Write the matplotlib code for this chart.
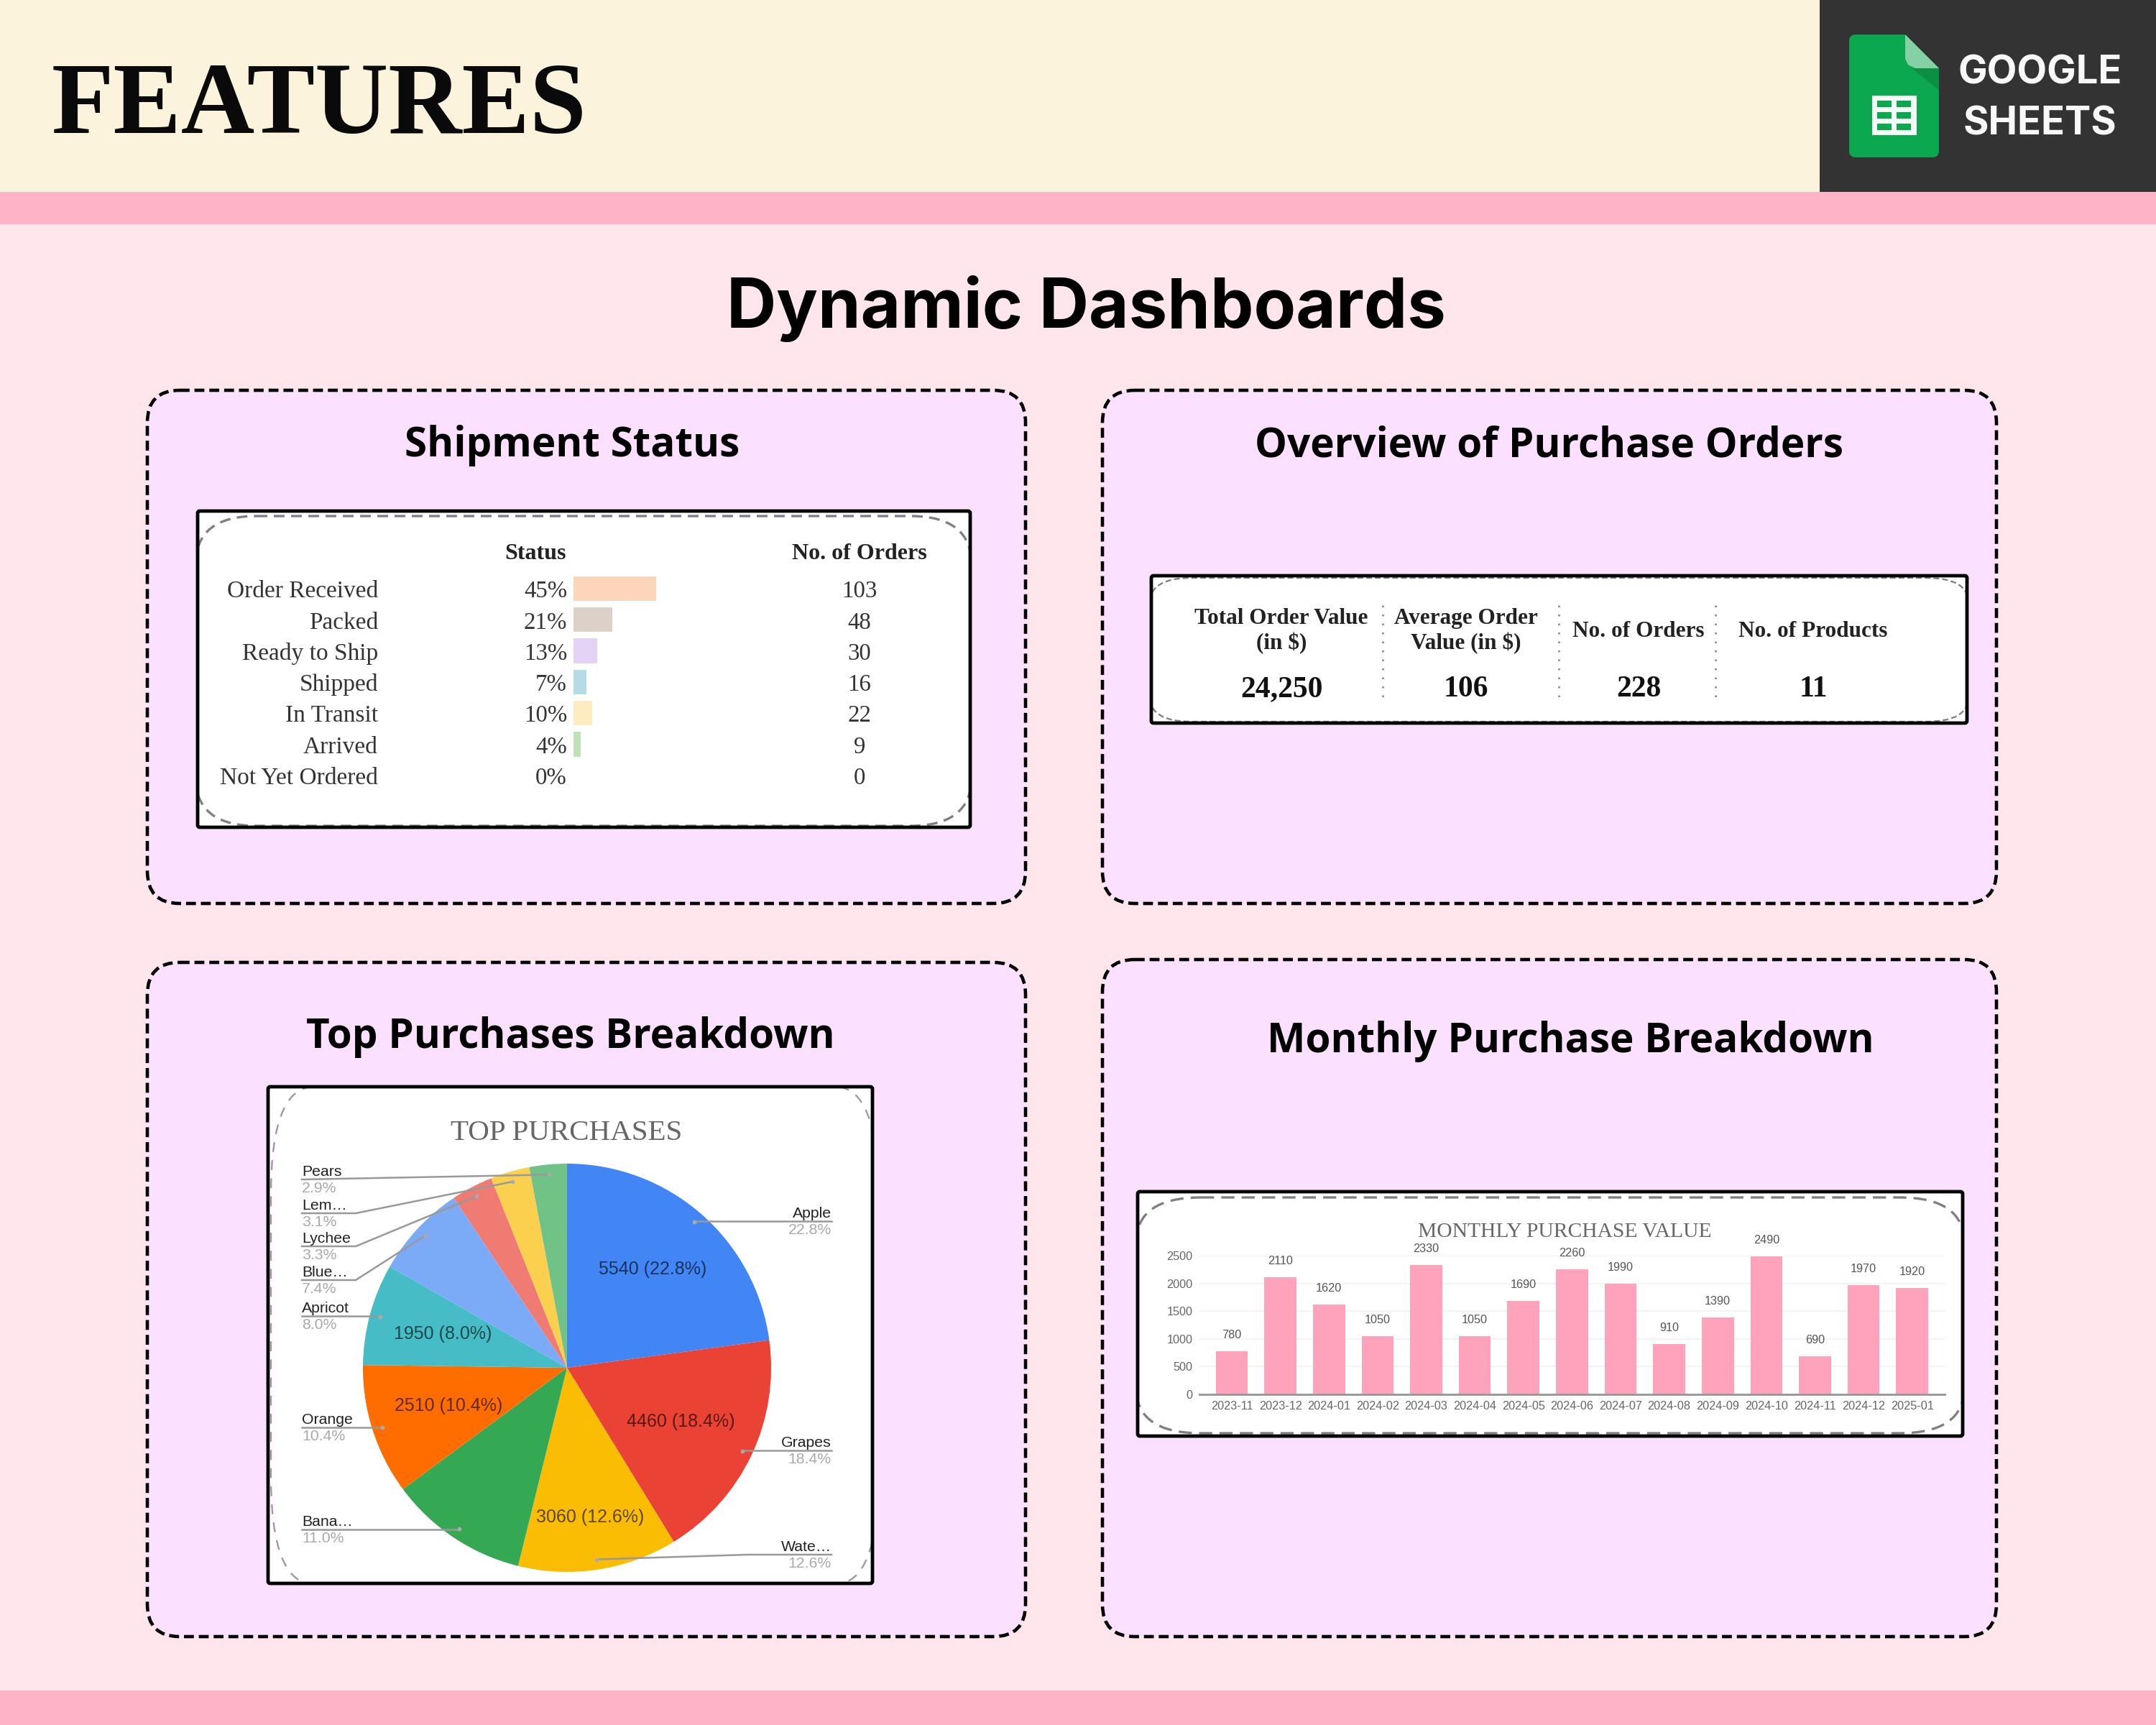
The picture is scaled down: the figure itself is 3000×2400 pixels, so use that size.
import matplotlib
matplotlib.use("Agg")
import matplotlib.pyplot as plt
from matplotlib.patches import FancyBboxPatch, Polygon, Rectangle
import numpy as np

status_labels = ["Order Received", "Packed", "Ready to Ship", "Shipped", "In Transit", "Arrived", "Not Yet Ordered"]
status_pct = [45, 21, 13, 7, 10, 4, 0]
status_orders = [103, 48, 30, 16, 22, 9, 0]
status_colors = ["#FDD5BA", "#DDD0C9", "#E5D3F5", "#B5DCE5", "#FEECC0", "#BFE0B8", "#FFFFFF"]

overview_heads = ["Total Order Value\n(in $)", "Average Order\nValue (in $)", "No. of Orders", "No. of Products"]
overview_vals = ["24,250", "106", "228", "11"]

pie_names = ["Apple", "Grapes", "Wate…", "Bana…", "Orange", "Apricot", "Blue…", "Lychee", "Lem…", "Pears"]
pie_vals = [5540, 4460, 3060, 2670, 2510, 1950, 1790, 800, 750, 720]
pie_pct = [22.8, 18.4, 12.6, 11.0, 10.4, 8.0, 7.4, 3.3, 3.1, 2.9]
pie_colors = ["#4285F4", "#EA4335", "#FBBC04", "#34A853", "#FF6D01", "#46BDC6", "#7BAAF7", "#F07B72", "#FCD04F", "#71C287"]

months = ["2023-11", "2023-12", "2024-01", "2024-02", "2024-03", "2024-04", "2024-05", "2024-06",
	"2024-07", "2024-08", "2024-09", "2024-10", "2024-11", "2024-12", "2025-01"]
month_vals = [780, 2110, 1620, 1050, 2330, 1050, 1690, 2260, 1990, 910, 1390, 2490, 690, 1970, 1920]
y_ticks = [0, 500, 1000, 1500, 2000, 2500]

SERIF = "Liberation Serif"
SANS = "Liberation Sans"
HEAD = "Open Sans"

W, H = 3000, 2400
fig = plt.figure(figsize=(10, 8), dpi=300)

def overlay(z):
	ax = fig.add_axes([0, 0, 1, 1], zorder=z)
	ax.set_xlim(0, W)
	ax.set_ylim(H, 0)
	ax.axis("off")
	return ax

def px_axes(left, top, right, bottom):
	ax = fig.add_axes([left / W, 1 - bottom / H, (right - left) / W, (bottom - top) / H], zorder=2)
	ax.patch.set_alpha(0)
	return ax

def round_box(ax, x0, y0, x1, y1, r, aspect=1, **kw):
	p = FancyBboxPatch((x0, y0), x1 - x0, y1 - y0, boxstyle="round,pad=0,rounding_size=%g" % r, mutation_aspect=aspect, **kw)
	ax.add_patch(p)
	return p

def card(x0, y0, x1, y1, ix0, iy0, ix1, iy1, r, aspect, dash, color="#808080", lw=0.8):
	x0, y0, x1, y1 = x0 + 2, y0 + 2, x1 - 2, y1 - 2		# measured on the outside of the border
	bg.add_patch(Rectangle((x0, y0), x1 - x0, y1 - y0, fc="white", ec="none"))
	clip = Rectangle((x0, y0), x1 - x0, y1 - y0, transform=bg.transData)
	d = round_box(bg, ix0, iy0, ix1, iy1, r, aspect, fc="none", ec=color, lw=lw, ls=(0, dash))
	d.set_clip_path(clip)
	round_box(bg, x0, y0, x1, y1, 3, fc="none", ec="black", lw=1.15)

bg = overlay(0)
top = overlay(5)

# page background and header
bg.add_patch(Rectangle((0, 0), W, H, fc="#FFE5EC", ec="none"))
bg.add_patch(Rectangle((0, 0), W, 267, fc="#FCF3DC", ec="none"))
bg.add_patch(Rectangle((0, 267), W, 45, fc="#FFB3C6", ec="none"))
bg.add_patch(Rectangle((0, 2352), W, 48, fc="#FFB3C6", ec="none"))
bg.add_patch(Rectangle((2532, 0), 468, 267, fc="#333333", ec="none"))
bg.text(72, 150, "FEATURES", family=SERIF, weight="bold", fontsize=34, color="#0A0A0A", ha="left", va="center")

# sheets logo
bg.add_patch(Polygon([(2581, 56), (2648, 56), (2690, 98), (2690, 211), (2581, 211)], fc="#0BA84F", ec="#0BA84F", lw=3.8, joinstyle="round"))
bg.add_patch(Polygon([(2660, 95), (2698, 95), (2698, 125)], fc="#0A8F43", ec="none"))
bg.add_patch(Polygon([(2651, 48), (2698, 95), (2665, 95), (2655, 90), (2651, 82)], fc="#86D0A6", ec="none"))
bg.add_patch(Rectangle((2605, 133), 62, 55, fc="#F4FBF6", ec="none"))
for cy in [140, 156, 172]:
	for cx in [2612, 2639]:
		bg.add_patch(Rectangle((cx, cy), 20, 9, fc="#0BA84F", ec="none"))
bg.text(2839, 102, "GOOGLE", family="Inter", weight="bold", fontsize=13, color="#F8F8F8", ha="center", va="center")
bg.text(2839, 173, "SHEETS", family="Inter", weight="bold", fontsize=13, color="#F8F8F8", ha="center", va="center")

bg.text(1511, 429, "Dynamic Dashboards", family="Inter", weight="bold", fontsize=23, color="black", ha="center", va="center")

# dashed panels
for x0, y0, x1, y1 in [(205, 543, 1427, 1257), (1534, 543, 2778, 1257), (205, 1339, 1427, 2277), (1534, 1335, 2778, 2277)]:
	round_box(bg, x0, y0, x1, y1, 45, fc="#FBE0FF", ec="black", lw=1.1, ls=(0, (3, 1.5)))

bg.text(796, 620, "Shipment Status", family=HEAD, weight="bold", fontsize=13.6, ha="center", va="center")
bg.text(2156, 620, "Overview of Purchase Orders", family=HEAD, weight="bold", fontsize=13.6, ha="center", va="center")
bg.text(794, 1443, "Top Purchases Breakdown", family=HEAD, weight="bold", fontsize=13.6, ha="center", va="center")
bg.text(2185, 1449, "Monthly Purchase Breakdown", family=HEAD, weight="bold", fontsize=13.6, ha="center", va="center")

card(273, 709, 1352, 1153, 272, 718, 1352, 1149, 85, 0.8, (4.5, 2.7))
card(1600, 799, 2739, 1008, 1600, 804, 2739, 1004, 58, 0.6, (3.5, 1.8), lw=0.55)
card(371, 1510, 1216, 2205, 377, 1512, 1222, 2204, 60, 2.5, (6, 5), color="#999999", lw=0.55)
card(1581, 1656, 2733, 2000, 1581, 1666, 2733, 1994, 90, 0.7, (5.5, 3))

# shipment status table
row_h = 43.3
row_y = [819 + row_h * i for i in range(len(status_labels))]
ax1 = px_axes(798, 819 - row_h / 2, 913, 819 + row_h * 6.5)
ax1.barh(range(len(status_pct)), status_pct, height=0.79, color=status_colors)
ax1.set_xlim(0, 45)
ax1.set_ylim(6.5, -0.5)
ax1.axis("off")
top.text(788, 770, "Status", family=SERIF, weight="bold", fontsize=7.7, color="#222222", ha="right", va="center")
top.text(1196, 770, "No. of Orders", family=SERIF, weight="bold", fontsize=7.7, color="#222222", ha="center", va="center")
for y, name, p, n in zip(row_y, status_labels, status_pct, status_orders):
	top.text(526, y + 4, name, family=SERIF, fontsize=8, color="#333333", ha="right", va="center")
	top.text(789, y + 4, "%d%%" % p, family=SERIF, fontsize=7.9, color="#333333", ha="right", va="center")
	top.text(1196, y + 4, str(n), family=SERIF, fontsize=7.9, color="#333333", ha="center", va="center")

# overview strip
col_x = [1783, 2040, 2280, 2523]
for x, head, val in zip(col_x, overview_heads, overview_vals):
	top.text(x, 878, head, family=SERIF, weight="bold", fontsize=7.5, color="#222222", ha="center", va="center", linespacing=1.2)
	top.text(x, 959, val, family=SERIF, weight="bold", fontsize=10, color="#111111", ha="center", va="center")
for x in [1924, 2169, 2387]:
	top.plot([x, x], [842, 972], color="#808080", lw=0.6, ls=(0, (1, 4)))

# pie
R = 284
CX, CY = 789, 1903
ax3 = px_axes(CX - R, CY - R, CX + R, CY + R)
wedges, _ = ax3.pie(pie_vals, colors=pie_colors, startangle=90, counterclock=False, radius=1)
ax3.set_xlim(-1, 1)
ax3.set_ylim(-1, 1)
top.text(788, 1577, "TOP PURCHASES", family=SERIF, fontsize=9.85, color="#666666", ha="center", va="center")

def on_pie(w, frac):
	a = np.deg2rad((w.theta1 + w.theta2) / 2)
	return CX + frac * R * np.cos(a), CY - frac * R * np.sin(a)

# slices with the value printed inside, and how far out the text sits
inside = {"Apple": 0.64, "Grapes": 0.615, "Wate…": 0.74, "Orange": 0.61, "Apricot": 0.63}
for w, name, v, p in zip(wedges, pie_names, pie_vals, pie_pct):
	if name in inside:
		x, y = on_pie(w, inside[name])
		top.text(x, y, "%d (%.1f%%)" % (v, p), family=SANS, fontsize=6, color="black", alpha=0.62, ha="center", va="center")

# callout rows: text side, y of the leader, x of the elbow
callouts = {
	"Apple": ("r", 1699, None), "Grapes": ("r", 2018, None), "Wate…": ("r", 2163, 1040),
	"Bana…": ("l", 2128, None), "Orange": ("l", 1986, None), "Apricot": ("l", 1831, None),
	"Blue…": ("l", 1781, 495), "Lychee": ("l", 1734, 495), "Lem…": ("l", 1688, 495), "Pears": ("l", 1641, 420),
}
for w, name, p in zip(wedges, pie_names, pie_pct):
	side, ly, elbow = callouts[name]
	x, y = on_pie(w, 0.95)
	edge = 1157 if side == "r" else 420
	xs = [edge, elbow, x] if elbow else [edge, x]
	ys = [ly, ly, y] if elbow else [ly, ly if not name == "Pears" else y]
	top.plot(xs, ys, color="#999999", lw=0.6)
	top.plot([x], [y], "o", color="#AAAAAA", ms=1.4, mew=0)
	ha = "right" if side == "r" else "left"
	top.text(edge, ly - 1, name, family=SANS, fontsize=5.1, color="#222222", ha=ha, va="bottom")
	top.text(edge, ly + 3, "%.1f%%" % p, family=SANS, fontsize=5.1, color="#AAAAAA", ha=ha, va="top")

# monthly bars
ax4 = px_axes(1668.5, 1747, 2706, 1940)
xs = np.arange(len(months))
ax4.bar(xs, month_vals, width=0.66, color="#FFA3BC", zorder=3)
ax4.set_xlim(-0.673, 14.67)
ax4.set_ylim(0, 2500)
ax4.set_yticks(y_ticks)
ax4.set_yticklabels(y_ticks, family=SANS, fontsize=3.9, color="#666666")
ax4.set_xticks(xs)
ax4.set_xticklabels(months, family=SANS, fontsize=3.9, color="#666666")
ax4.tick_params(length=0, pad=2.2)
ax4.grid(axis="y", color="#F3F3F3", lw=0.5, zorder=0)
ax4.set_axisbelow(True)
for s in ["top", "right", "left"]:
	ax4.spines[s].set_visible(False)
ax4.spines["bottom"].set_color("#999999")
ax4.spines["bottom"].set_linewidth(0.7)
ax4.spines["bottom"].set_zorder(4)
for x, v in zip(xs, month_vals):
	ax4.annotate(str(v), (x, v), xytext=(0, 5.4), textcoords="offset points", family=SANS, fontsize=3.9, color="#555555", ha="center", va="center", annotation_clip=False)
top.text(2177, 1714, "MONTHLY PURCHASE VALUE", family=SERIF, fontsize=7.1, color="#666666", ha="center", va="center")

fig.savefig("out.png", dpi=300)
